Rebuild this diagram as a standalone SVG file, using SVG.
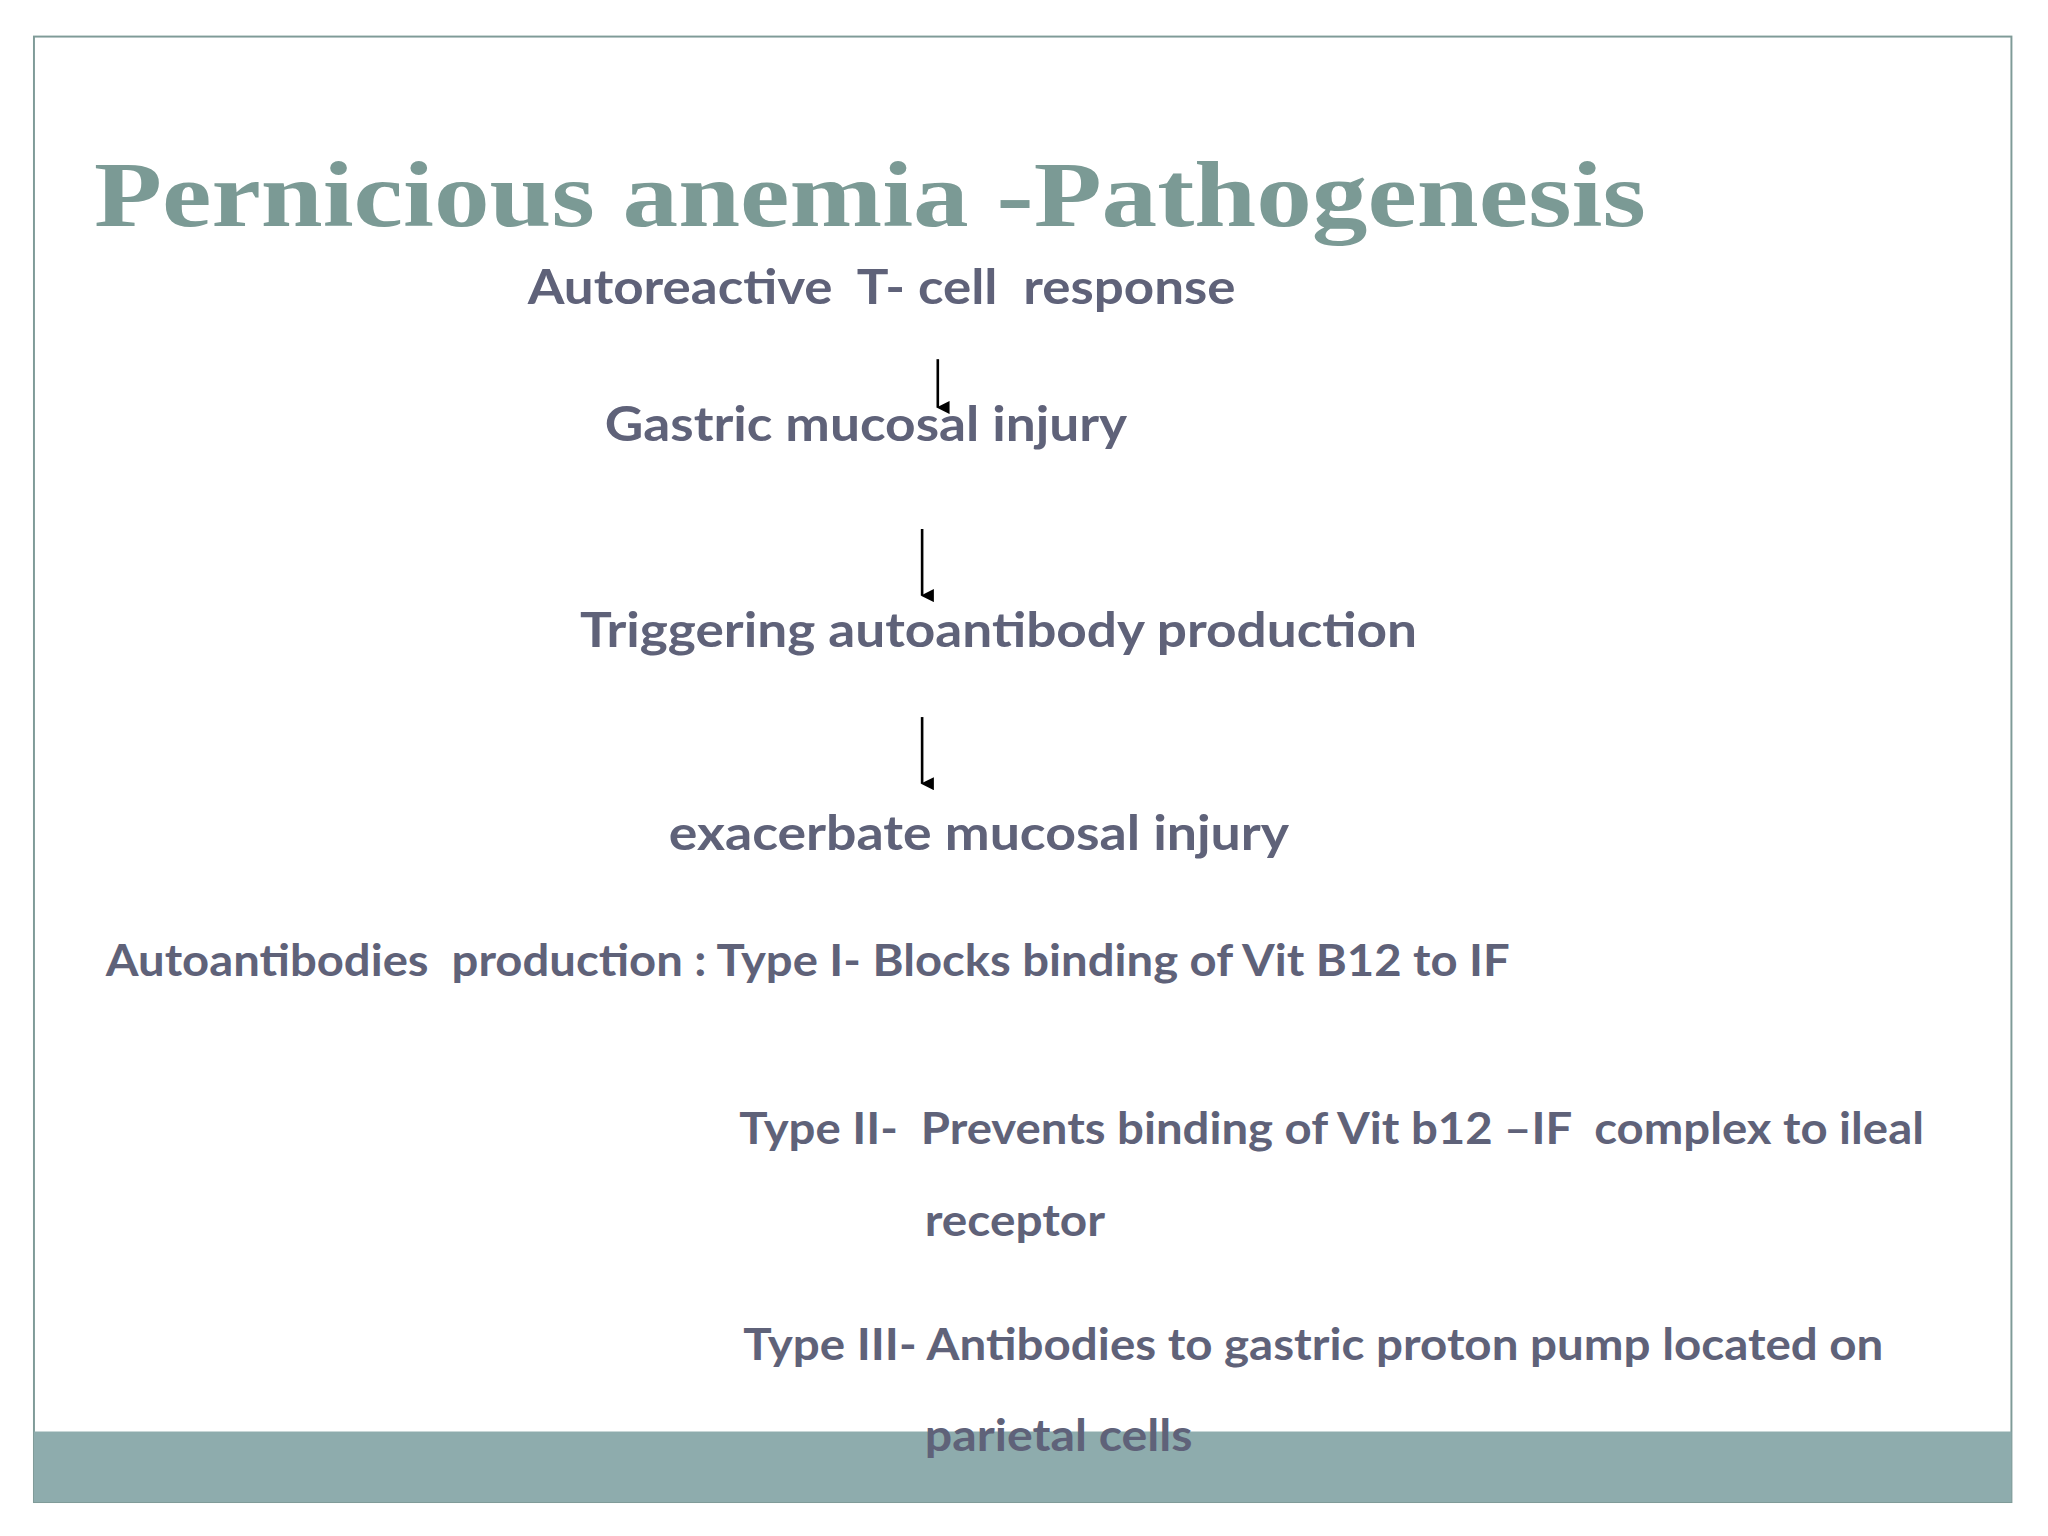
<svg xmlns="http://www.w3.org/2000/svg" width="2048" height="1536" viewBox="0 0 2048 1536">
<style>
.b{font-family:Lato,"Open Sans","Liberation Sans",sans-serif;font-weight:bold;fill:#5f6279}
.l{stroke:#000;stroke-width:2;fill:none}
</style>
<defs><marker id="a" markerWidth="10" markerHeight="10" refX="5" refY="9" orient="auto" markerUnits="userSpaceOnUse"><path d="M0,0 L10,0 L5,10 Z" fill="#000"/></marker></defs>
<rect width="2048" height="1536" fill="#fff"/>
<g transform="scale(1.30612)">
<g id="frame">
<rect x="26" y="28" width="1514" height="1122" fill="none" stroke="#7f9b98" stroke-width="1.5"/>
<rect x="26" y="1096" width="1514" height="54" fill="#8eacad"/>
</g>
<g id="title"><text x="72" y="173" font-family="Liberation Serif,serif" font-weight="bold" font-size="72" fill="#7b9a95" textLength="1188" lengthAdjust="spacingAndGlyphs">Pernicious anemia -Pathogenesis</text></g>
<g id="n1"><text class="b" x="404" y="233" font-size="36" textLength="542" lengthAdjust="spacingAndGlyphs" xml:space="preserve">Autoreactive  T- cell  response</text></g>
<g id="n2"><text class="b" x="463" y="338" font-size="36" textLength="400" lengthAdjust="spacingAndGlyphs">Gastric mucosal injury</text></g>
<g id="n3"><text class="b" x="444" y="495" font-size="36" textLength="641" lengthAdjust="spacingAndGlyphs">Triggering autoantibody production</text></g>
<g id="n4"><text class="b" x="512" y="651" font-size="36" textLength="475" lengthAdjust="spacingAndGlyphs">exacerbate mucosal injury</text></g>
<g id="t1"><text class="b" x="81" y="747" font-size="33" textLength="1075" lengthAdjust="spacingAndGlyphs" xml:space="preserve">Autoantibodies  production : Type I- Blocks binding of Vit B12 to IF</text></g>
<g id="t2"><text class="b" x="566" y="876" font-size="33" textLength="907" lengthAdjust="spacingAndGlyphs" xml:space="preserve">Type II-  Prevents binding of Vit b12 –IF  complex to ileal</text>
<text class="b" x="708" y="946" font-size="33" textLength="138" lengthAdjust="spacingAndGlyphs">receptor</text></g>
<g id="t3"><text class="b" x="569" y="1041" font-size="33" textLength="873" lengthAdjust="spacingAndGlyphs">Type III- Antibodies to gastric proton pump located on</text>
<text class="b" x="708" y="1111" font-size="33" textLength="205" lengthAdjust="spacingAndGlyphs">parietal cells</text></g>
<g id="connectors">
<line class="l" x1="718" y1="275" x2="718" y2="312" marker-end="url(#a)"/>
<line class="l" x1="706" y1="405" x2="706" y2="456" marker-end="url(#a)"/>
<line class="l" x1="706" y1="549" x2="706" y2="600" marker-end="url(#a)"/>
</g>
</g>
</svg>
